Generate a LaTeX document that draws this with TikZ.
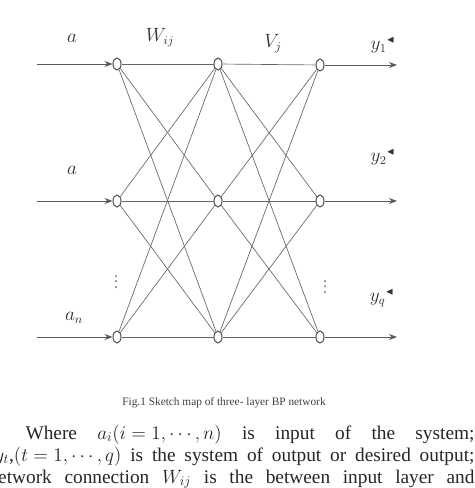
\documentclass[tikz,border=0pt]{standalone}
\usepackage{amssymb}
\usepackage{fontspec}
\setmainfont{Liberation Serif}
\usetikzlibrary{shapes.geometric,arrows.meta}

\tikzset{every picture/.style={line width=0.75pt}}
\tikzset{
  neuron/.style={draw=black!70,ellipse,inner sep=0pt,minimum width=6pt,minimum height=9pt},
  link/.style={draw=black!60,line width=0.5pt},
  feed/.style={draw=black!65,line width=0.6pt,-{Stealth[length=6pt,width=4.5pt]}},
  lbl/.style={inner sep=0.75pt,text=black!80,font=\fontsize{13.5}{15}\selectfont},
  para/.style={anchor=base west,inner sep=0pt,text=black!85,font=\fontsize{14.5}{17}\selectfont}
}
\newcommand{\pmark}{$^{\scriptscriptstyle\blacktriangleleft}$}

\begin{document}
\begin{tikzpicture}[x=0.75pt,y=0.75pt,yscale=-1,xscale=1]
\path[use as bounding box] (0,0) rectangle (474,488);
\clip (0,0) rectangle (474,488);

% Neurons
\node [neuron] (i1) at (117,64) {};
\node [neuron] (i2) at (117,201) {};
\node [neuron] (i3) at (117,337) {};
\node [neuron] (h1) at (218,64) {};
\node [neuron] (h2) at (218,201) {};
\node [neuron] (h3) at (218,337) {};
\node [neuron] (o1) at (320,65) {};
\node [neuron] (o2) at (320,201) {};
\node [neuron] (o3) at (320,337) {};

% Free ends of the arrows
\coordinate (in1) at (37,64);
\coordinate (in2) at (37,201);
\coordinate (in3) at (37,337);
\coordinate (out1) at (397,65);
\coordinate (out2) at (397,201);
\coordinate (out3) at (397,337);

%Input arrows
\draw [feed] (in1) -- (i1);
\draw [feed] (in2) -- (i2);
\draw [feed] (in3) -- (i3);
%Output arrows
\draw [feed] (o1) -- (out1);
\draw [feed] (o2) -- (out2);
\draw [feed] (o3) -- (out3);

%Input to hidden
\draw [link] (i1) -- (h1);
\draw [link] (i1) -- (h2);
\draw [link] (i1) -- (h3);
\draw [link] (i2) -- (h1);
\draw [link] (i2) -- (h2);
\draw [link] (i2) -- (h3);
\draw [link] (i3) -- (h1);
\draw [link] (i3) -- (h2);
\draw [link] (i3) -- (h3);
%Hidden to output
\draw [link] (h1) -- (o1);
\draw [link] (h1) -- (o2);
\draw [link] (h1) -- (o3);
\draw [link] (h2) -- (o1);
\draw [link] (h2) -- (o2);
\draw [link] (h2) -- (o3);
\draw [link] (h3) -- (o1);
\draw [link] (h3) -- (o2);
\draw [link] (h3) -- (o3);

% Text Node
\node [lbl] (a1) at (72,38) {$a$};
\node [lbl] (wij) at (160,38) {$W_{ij}$};
\node [lbl] (vj) at (273,44) {$V_{j}$};
\node [lbl] (y1) at (383,45) {$y_{1}$\pmark};
% Text Node
\node [lbl] (a2) at (72,170) {$a$};
\node [lbl] (y2) at (383,157) {$y_{2}$\pmark};
% Text Node
\node [lbl] (an) at (74,318) {$a_{n}$};
\node [lbl] (yq) at (382,298) {$y_{q}$\pmark};
% Text Node
\node [lbl,text=black!45] (dl) at (116,278) {$\vdots$};
\node [lbl,text=black!45] (dr) at (325,283) {$\vdots$};

% Caption
\node [inner sep=0pt,text=black!75,font=\fontsize{8.5}{10}\selectfont] (cap) at (224,403) {Fig.1 Sketch map of three- layer BP network};

% Paragraph
\node [para] (p1) at (25,439) {\makebox[336.75pt][s]{Where \ \hbox{$a_i(i=1,\cdots,n)$} \ is \ input \ of \ the \ system;}};
\node [para] (p2) at (-6,461) {\makebox[360pt][s]{\hbox{$y_t$,$(t=1,\cdots,q)$} is the system of output or desired output;}};
\node [para] (p3) at (-12,483) {\makebox[364.5pt][s]{network connection \hbox{$W_{ij}$} is the between input layer and}};

\end{tikzpicture}
\end{document}
